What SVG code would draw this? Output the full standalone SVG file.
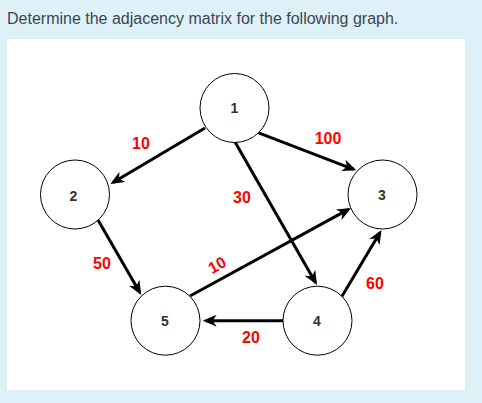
<svg xmlns="http://www.w3.org/2000/svg" width="482" height="403" viewBox="0 0 482 403">
<style>
.node circle{fill:#fff;stroke:#000;stroke-width:1}
.node text{font-family:"Liberation Sans",Arial,sans-serif;font-weight:bold;font-size:14px;fill:#333;text-anchor:middle;dominant-baseline:central}
.edge{stroke:#000;stroke-width:3;fill:none;marker-end:url(#arr)}
.lbl{font-family:"Liberation Sans",Arial,sans-serif;font-weight:bold;font-size:16px;fill:#ff0000;text-anchor:middle;dominant-baseline:central}
</style>
<defs>
<marker id="arr" markerUnits="userSpaceOnUse" viewBox="0 0 14 12" markerWidth="14" markerHeight="12" refX="11" refY="6" orient="auto">
<path d="M0,0 L14,6 L0,12 L4,6 Z" fill="#000"/>
</marker>
</defs>
<rect x="0" y="0" width="482" height="403" fill="#dff1f8"/>
<rect x="7" y="39" width="458" height="351" fill="#fff"/>
<text x="7" y="24" font-family="'Liberation Sans',Arial,sans-serif" font-size="16" fill="#3a4752">Determine the adjacency matrix for the following graph.</text>
<g id="connectors">
<line class="edge" x1="205" y1="128" x2="113" y2="182.5"/>
<line class="edge" x1="258" y1="132.7" x2="353.6" y2="169.3"/>
<line class="edge" x1="235" y1="142" x2="315.5" y2="282.4"/>
<line class="edge" x1="98" y1="220" x2="139.7" y2="292.3"/>
<line class="edge" x1="190" y1="296" x2="348.4" y2="209.4"/>
<line class="edge" x1="341.7" y1="296.7" x2="380" y2="232.6"/>
<line class="edge" x1="283" y1="320.7" x2="205.7" y2="320.7"/>
</g>
<g id="labels">
<text class="lbl" x="141" y="143">10</text>
<text class="lbl" x="328" y="138">100</text>
<text class="lbl" x="242" y="197">30</text>
<text class="lbl" x="102" y="263">50</text>
<text class="lbl" x="217" y="265" transform="rotate(-29 217 265)">10</text>
<text class="lbl" x="375" y="283.5">60</text>
<text class="lbl" x="251" y="337.5">20</text>
</g>
<g id="node1" class="node"><circle cx="234.5" cy="108" r="34.5"/><text x="234.5" y="108">1</text></g>
<g id="node2" class="node"><circle cx="75" cy="194.5" r="34.5"/><text x="73.5" y="195.5">2</text></g>
<g id="node3" class="node"><circle cx="382.5" cy="194.5" r="34.5"/><text x="382" y="195">3</text></g>
<g id="node4" class="node"><circle cx="317.5" cy="320.7" r="34.5"/><text x="317" y="321">4</text></g>
<g id="node5" class="node"><circle cx="165.5" cy="320.7" r="34.5"/><text x="165" y="321">5</text></g>
</svg>
